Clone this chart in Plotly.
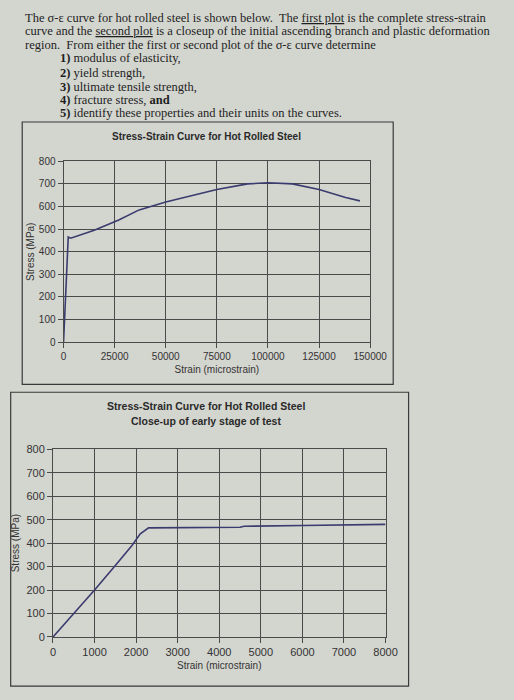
import plotly.graph_objects as go

W, H = 514, 700

# ── Data ────────────────────────────────────────────────────────
full_strain = [0, 1000, 2000, 2300, 3500, 5000, 15000, 27000, 37000, 50000,
               62000, 75000, 90000, 100000, 112000, 125000, 138000, 145000]
full_stress = [0, 200, 420, 465, 460, 465, 495, 540, 585, 620,
               645, 675, 700, 705, 700, 675, 640, 625]

close_strain = [0, 500, 1000, 1500, 1900, 2100, 2300, 4500, 4600, 6000, 8000]
close_stress = [0, 100, 200, 305, 390, 440, 465, 468, 472, 475, 480]

full_ticks = [0, 25000, 50000, 75000, 100000, 125000, 150000]
close_ticks = [0, 1000, 2000, 3000, 4000, 5000, 6000, 7000, 8000]
stress_ticks = [0, 100, 200, 300, 400, 500, 600, 700, 800]

PAPER = "#d3d5cf"
INK = "#1e1e1e"
GRID = "#4a4a4a"
LINE = "#3a3b6e"


def px_x(x):
    return x / W


def px_y(y):
    return 1 - y / H


fig = go.Figure()
fig.add_trace(go.Scatter(x=full_strain, y=full_stress, mode="lines",
                         line=dict(color=LINE, width=1.6),
                         xaxis="x", yaxis="y", showlegend=False))
fig.add_trace(go.Scatter(x=close_strain, y=close_stress, mode="lines",
                         line=dict(color=LINE, width=1.6),
                         xaxis="x2", yaxis="y2", showlegend=False))

axis_common = dict(
    showgrid=True, gridcolor=GRID, gridwidth=1,
    showline=True, linecolor=GRID, linewidth=1, mirror=True,
    ticks="outside", ticklen=5, tickcolor=GRID,
    zeroline=False, color="#333",
    title_font=dict(family="Liberation Sans", size=10, color="#333"),
)

fig.update_layout(
    width=W, height=H,
    margin=dict(l=0, r=0, t=0, b=0),
    paper_bgcolor=PAPER, plot_bgcolor=PAPER,
    font=dict(family="Liberation Sans", size=10, color="#333"),
    xaxis=dict(domain=[px_x(63), px_x(382)], anchor="y", range=[0, 150000],
               tickvals=full_ticks, ticktext=[str(t) for t in full_ticks],
               title=dict(text="Strain (microstrain)", standoff=4), **axis_common),
    yaxis=dict(domain=[px_y(342), px_y(158)], anchor="x", range=[0, 800],
               tickvals=stress_ticks,
               title=dict(text="Stress (MPa)", standoff=2), **axis_common),
    xaxis2=dict(domain=[px_x(52), px_x(398)], anchor="y2", range=[0, 8000],
                tickvals=close_ticks, ticktext=[str(t) for t in close_ticks],
                tickfont=dict(size=11),
                title=dict(text="Strain (microstrain)", standoff=4), **axis_common),
    yaxis2=dict(domain=[px_y(642), px_y(451)], anchor="x2", range=[0, 800],
                tickvals=stress_ticks, tickfont=dict(size=11),
                title=dict(text="Stress (MPa)", standoff=4), **axis_common),
)

# chart frames
for x0, y0, x1, y1 in [(20, 118, 406, 385), (8, 393, 422, 692)]:
    fig.add_shape(type="rect", xref="paper", yref="paper",
                  x0=px_x(x0), x1=px_x(x1), y0=px_y(y1), y1=px_y(y0),
                  line=dict(color="#3a3a3a", width=1.2))

# ── Question text ───────────────────────────────────────────────
question = [
    (21, 12, "The σ-ε curve for hot rolled steel is shown below.  The <u>first plot</u> is the complete stress-strain"),
    (21, 25, "curve and the <u>second plot</u> is a closeup of the initial ascending branch and plastic deformation"),
    (21, 40, "region.  From either the first or second plot of the σ-ε curve determine"),
    (57, 53, "<b>1)</b> modulus of elasticity,"),
    (57, 68, "<b>2)</b> yield strength,"),
    (57, 82, "<b>3)</b> ultimate tensile strength,"),
    (57, 96, "<b>4)</b> fracture stress, <b>and</b>"),
    (57, 109, "<b>5)</b> identify these properties and their units on the curves."),
]
for x, y, txt in question:
    fig.add_annotation(text=txt, x=px_x(x), y=px_y(y), xref="paper", yref="paper",
                       xanchor="left", yanchor="middle", showarrow=False,
                       font=dict(family="Liberation Serif", size=12.5, color=INK))

titles = [
    (212, 133, "<b>Stress-Strain Curve for Hot Rolled Steel</b>", 10),
    (211, 407, "<b>Stress-Strain Curve for Hot Rolled Steel</b>", 10.5),
    (211, 422, "<b>Close-up of early stage of test</b>", 10.5),
]
for x, y, txt, size in titles:
    fig.add_annotation(text=txt, x=px_x(x), y=px_y(y), xref="paper", yref="paper",
                       xanchor="center", yanchor="middle", showarrow=False,
                       font=dict(family="Liberation Sans", size=size, color="#2a2a2a"))

# page margin/scrollbars off so the figure fills the window like the photo
fig.write_html("out.html", config={"displayModeBar": False},
               post_script="document.body.style.margin='0';"
                           "document.body.style.overflow='hidden';"
                           "document.documentElement.style.overflow='hidden';"
                           "document.body.style.background='" + PAPER + "';")
